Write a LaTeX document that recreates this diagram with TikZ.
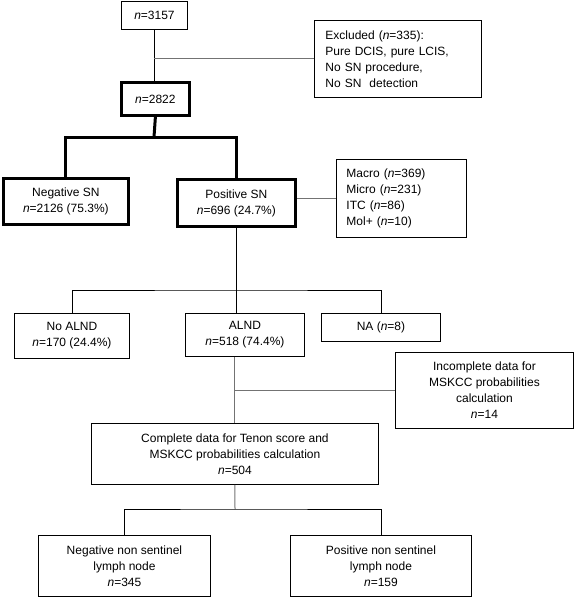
\documentclass[tikz,border=0pt]{standalone}
\usepackage{fontspec}
\setmainfont{Liberation Sans}
\begin{document}
\begin{tikzpicture}[x=1pt,y=-1pt,
  every node/.style={font=\fontsize{12}{16}\selectfont},
  box/.style={draw, rectangle, anchor=north west, align=center, inner sep=0pt, line width=0.9pt},
  boldbox/.style={box, line width=2.8pt},
  lbox/.style={box, align=left},
  thickline/.style={line width=3pt},
  midline/.style={line width=1.5pt},
  thinline/.style={line width=0.9pt},
  grayline/.style={line width=1pt, draw=black!55}
]
\useasboundingbox (0,0) rectangle (575,597);

\node[box, minimum width=66pt, minimum height=28pt] (a) at (121,1) {\textit{n}=3157};
\node[lbox, minimum width=167pt, minimum height=77pt, text width=145pt] (ex) at (314,20)
  {Excluded (\textit{n}=335):\\Pure DCIS, pure LCIS,\\No SN procedure,\\No SN\ \ detection};
\node[boldbox, minimum width=68pt, minimum height=33pt] (b) at (120,81) {\textit{n}=2822};

\node[boldbox, minimum width=125pt, minimum height=46pt] (neg) at (2,177) {Negative SN\\\textit{n}=2126 (75.3\%)};
\node[boldbox, minimum width=118pt, minimum height=47pt] (pos) at (176,178) {Positive SN\\\textit{n}=696 (24.7\%)};
\node[lbox, minimum width=130pt, minimum height=78pt, text width=110pt] (mac) at (336,159)
  {Macro (\textit{n}=369)\\Micro (\textit{n}=231)\\ITC (\textit{n}=86)\\Mol+ (\textit{n}=10)};

\node[box, minimum width=115pt, minimum height=45pt] (noalnd) at (14,313) {No ALND\\\textit{n}=170 (24.4\%)};
\node[box, minimum width=119pt, minimum height=43pt] (alnd) at (185,313) {ALND\\\textit{n}=518 (74.4\%)};
\node[box, minimum width=119pt, minimum height=28pt] (na) at (321,313) {NA (\textit{n}=8)};

\node[box, minimum width=178pt, minimum height=76pt] (inc) at (395,352)
  {Incomplete data for\\MSKCC probabilities\\calculation\\\textit{n}=14};
\node[box, minimum width=287pt, minimum height=61pt] (comp) at (91,423)
  {Complete data for Tenon score and\\MSKCC probabilities calculation\\\textit{n}=504};

\node[box, minimum width=172pt, minimum height=61pt] (nn) at (38,535)
  {Negative non sentinel\\lymph node\\\textit{n}=345};
\node[box, minimum width=181pt, minimum height=61pt] (pn) at (290,535)
  {Positive non sentinel\\lymph node\\\textit{n}=159};

% connectors
\draw[midline] (a.south) -- (a.south |- b.north);
\draw[grayline] (ex.west) -- (ex.west -| a.south);

\coordinate (j2) at (154,137);
\draw[thickline] (b.south) -- (j2);
\draw[thickline] (neg.north) |- (j2) -| (pos.north);

\draw[grayline] (mac.west) -- (mac.west -| pos.east);

\coordinate (j3) at (235,290);
\draw[thinline] (pos.south) -- (pos.south |- alnd.north);
\draw[thinline] (noalnd.north) |- (j3) -| (na.north);

\draw[grayline] (comp.north) -- (comp.north |- alnd.south);
\draw[grayline] (inc.west) -- (inc.west -| comp.north);

\coordinate (j4) at (235,509);
\draw[grayline] (comp.south) -- (j4);
\draw[thinline] (nn.north) |- (j4) -| (pn.north);
\end{tikzpicture}
\end{document}
